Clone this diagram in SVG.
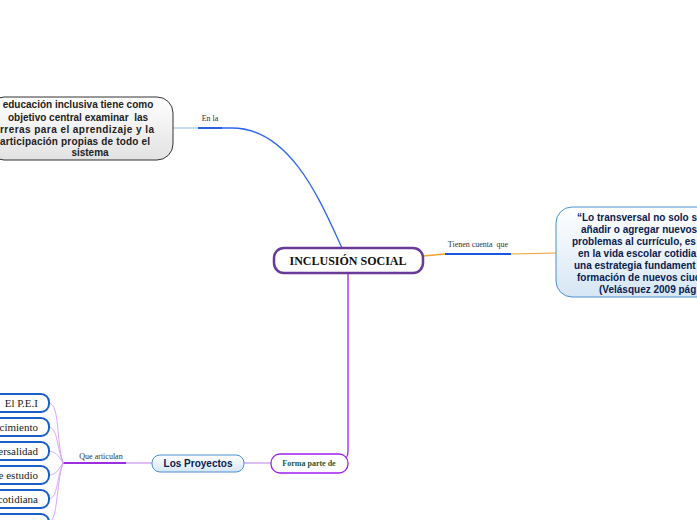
<svg xmlns="http://www.w3.org/2000/svg" width="697" height="520" viewBox="0 0 697 520">
<defs>
<linearGradient id="gg" x1="0" y1="0" x2="0" y2="1"><stop offset="0" stop-color="#ffffff"/><stop offset="1" stop-color="#e2e2e2"/></linearGradient>
<linearGradient id="gb" x1="0" y1="0" x2="0" y2="1"><stop offset="0" stop-color="#ffffff"/><stop offset="1" stop-color="#d6e6f4"/></linearGradient>
<style>
.s{font-family:"Liberation Sans",Arial,sans-serif;font-weight:bold;font-size:10px;fill:#222}
.r{font-family:"Liberation Serif","Times New Roman",serif;font-size:8px;fill:#333}
.leaf rect{fill:#fff;stroke:#1a5fc8;stroke-width:2}
.leaf text{font-family:"Liberation Serif","Times New Roman",serif;font-size:11px;fill:#222;text-anchor:end}
.fan{fill:none;stroke:#d9a8f5;stroke-width:1}
</style>
</defs>
<g id="connectors" fill="none">
<path d="M342 248 C320 200 290 128 232 128 L222 128" stroke="#2f66f0" stroke-width="1.3"/>
<line x1="198" y1="128" x2="222" y2="128" stroke="#2a5fe0" stroke-width="2"/>
<line x1="173" y1="128" x2="198" y2="128" stroke="#c9dbf5" stroke-width="2"/>
<text x="210" y="121" class="r" text-anchor="middle">En la</text>
<path d="M423 256 L445 254" stroke="#f2a030" stroke-width="1.3"/>
<line x1="445" y1="254" x2="511" y2="254" stroke="#1a55e0" stroke-width="2"/>
<path d="M511 254 L556 253" stroke="#f2a030" stroke-width="1"/>
<text x="478" y="247" class="r" text-anchor="middle" xml:space="preserve">Tienen cuenta  que</text>
<path d="M348 273 L348 450 Q348 458 345 458" stroke="#a020f0" stroke-width="1.3"/>
<line x1="244" y1="463" x2="271" y2="463" stroke="#dcbff5" stroke-width="2"/>
<line x1="126" y1="463" x2="152" y2="463" stroke="#dcbff5" stroke-width="2"/>
<line x1="63" y1="463" x2="126" y2="463" stroke="#9a2ee0" stroke-width="2"/>
<text x="101" y="459" class="r" text-anchor="middle">Que articulan</text>
<path class="fan" d="M63 463 C56 440 60 405 49 403"/>
<path class="fan" d="M63 463 C56 445 58 429 49 427"/>
<path class="fan" d="M63 463 C58 455 56 452 49 451"/>
<path class="fan" d="M63 463 C58 470 56 475 49 475"/>
<path class="fan" d="M63 463 C56 480 58 497 49 499"/>
<path class="fan" d="M63 463 C56 485 58 520 49 522"/>
</g>
<g id="n-left">
<rect x="-12" y="97" width="185" height="63" rx="16" fill="url(#gg)" stroke="#333" stroke-width="1"/>
<text class="s" text-anchor="middle"><tspan x="78" y="108">educación inclusiva tiene como</tspan><tspan x="78" y="121" xml:space="preserve">objetivo central examinar  las</tspan><tspan x="0" y="133" text-anchor="start" textLength="154" lengthAdjust="spacing">rreras para el aprendizaje y la</tspan><tspan x="0" y="145" text-anchor="start" textLength="150" lengthAdjust="spacing">articipación propias de todo el</tspan><tspan x="90" y="156">sistema</tspan></text>
</g>
<g id="n-center">
<rect x="274" y="248" width="149" height="25" rx="10" fill="#fff" stroke="#6a3a9a" stroke-width="2.5"/>
<text x="348" y="265" text-anchor="middle" font-family="Liberation Serif,serif" font-weight="bold" font-size="12" fill="#111">INCLUSIÓN SOCIAL</text>
</g>
<g id="n-right">
<rect x="556" y="207" width="160" height="90" rx="16" fill="url(#gb)" stroke="#4a90d0" stroke-width="1"/>
<text class="s" style="fill:#0a2050" text-anchor="start"><tspan x="577" y="221">“Lo transversal no solo se</tspan><tspan x="581" y="233">añadir o agregar nuevos</tspan><tspan x="572" y="245">problemas al currículo, es</tspan><tspan x="578" y="257">en la vida escolar cotidia</tspan><tspan x="574" y="269">una estrategia fundament</tspan><tspan x="577" y="281">formación de nuevos ciuc</tspan><tspan x="599" y="293">(Velásquez 2009 pág</tspan></text>
</g>
<g id="n-forma">
<rect x="271" y="454" width="77" height="19" rx="9" fill="#fff" stroke="#a020f0" stroke-width="1.3"/>
<text x="309" y="466" text-anchor="middle" font-family="Liberation Serif,serif" font-weight="bold" font-size="8" fill="#1a5a40">Forma parte de</text>
</g>
<g id="n-proyectos">
<rect x="152" y="455" width="92" height="17" rx="8" fill="url(#gb)" stroke="#4a90d0" stroke-width="1"/>
<text x="198" y="467" text-anchor="middle" font-family="Liberation Sans,sans-serif" font-weight="bold" font-size="10" fill="#0a2050">Los Proyectos</text>
</g>
<g id="leaf1" class="leaf"><rect x="-20" y="394" width="69" height="18" rx="8"/><text x="38" y="407">El P.E.I</text></g>
<g id="leaf2" class="leaf"><rect x="-20" y="418" width="69" height="18" rx="8"/><text x="38" y="431">ocimiento</text></g>
<g id="leaf3" class="leaf"><rect x="-20" y="442" width="69" height="18" rx="8"/><text x="38" y="455">versalidad</text></g>
<g id="leaf4" class="leaf"><rect x="-20" y="466" width="69" height="18" rx="8"/><text x="38" y="479">le estudio</text></g>
<g id="leaf5" class="leaf"><rect x="-20" y="490" width="69" height="18" rx="8"/><text x="38" y="503">cotidiana</text></g>
<g id="leaf6" class="leaf"><rect x="-20" y="514" width="69" height="18" rx="8"/></g>
</svg>
